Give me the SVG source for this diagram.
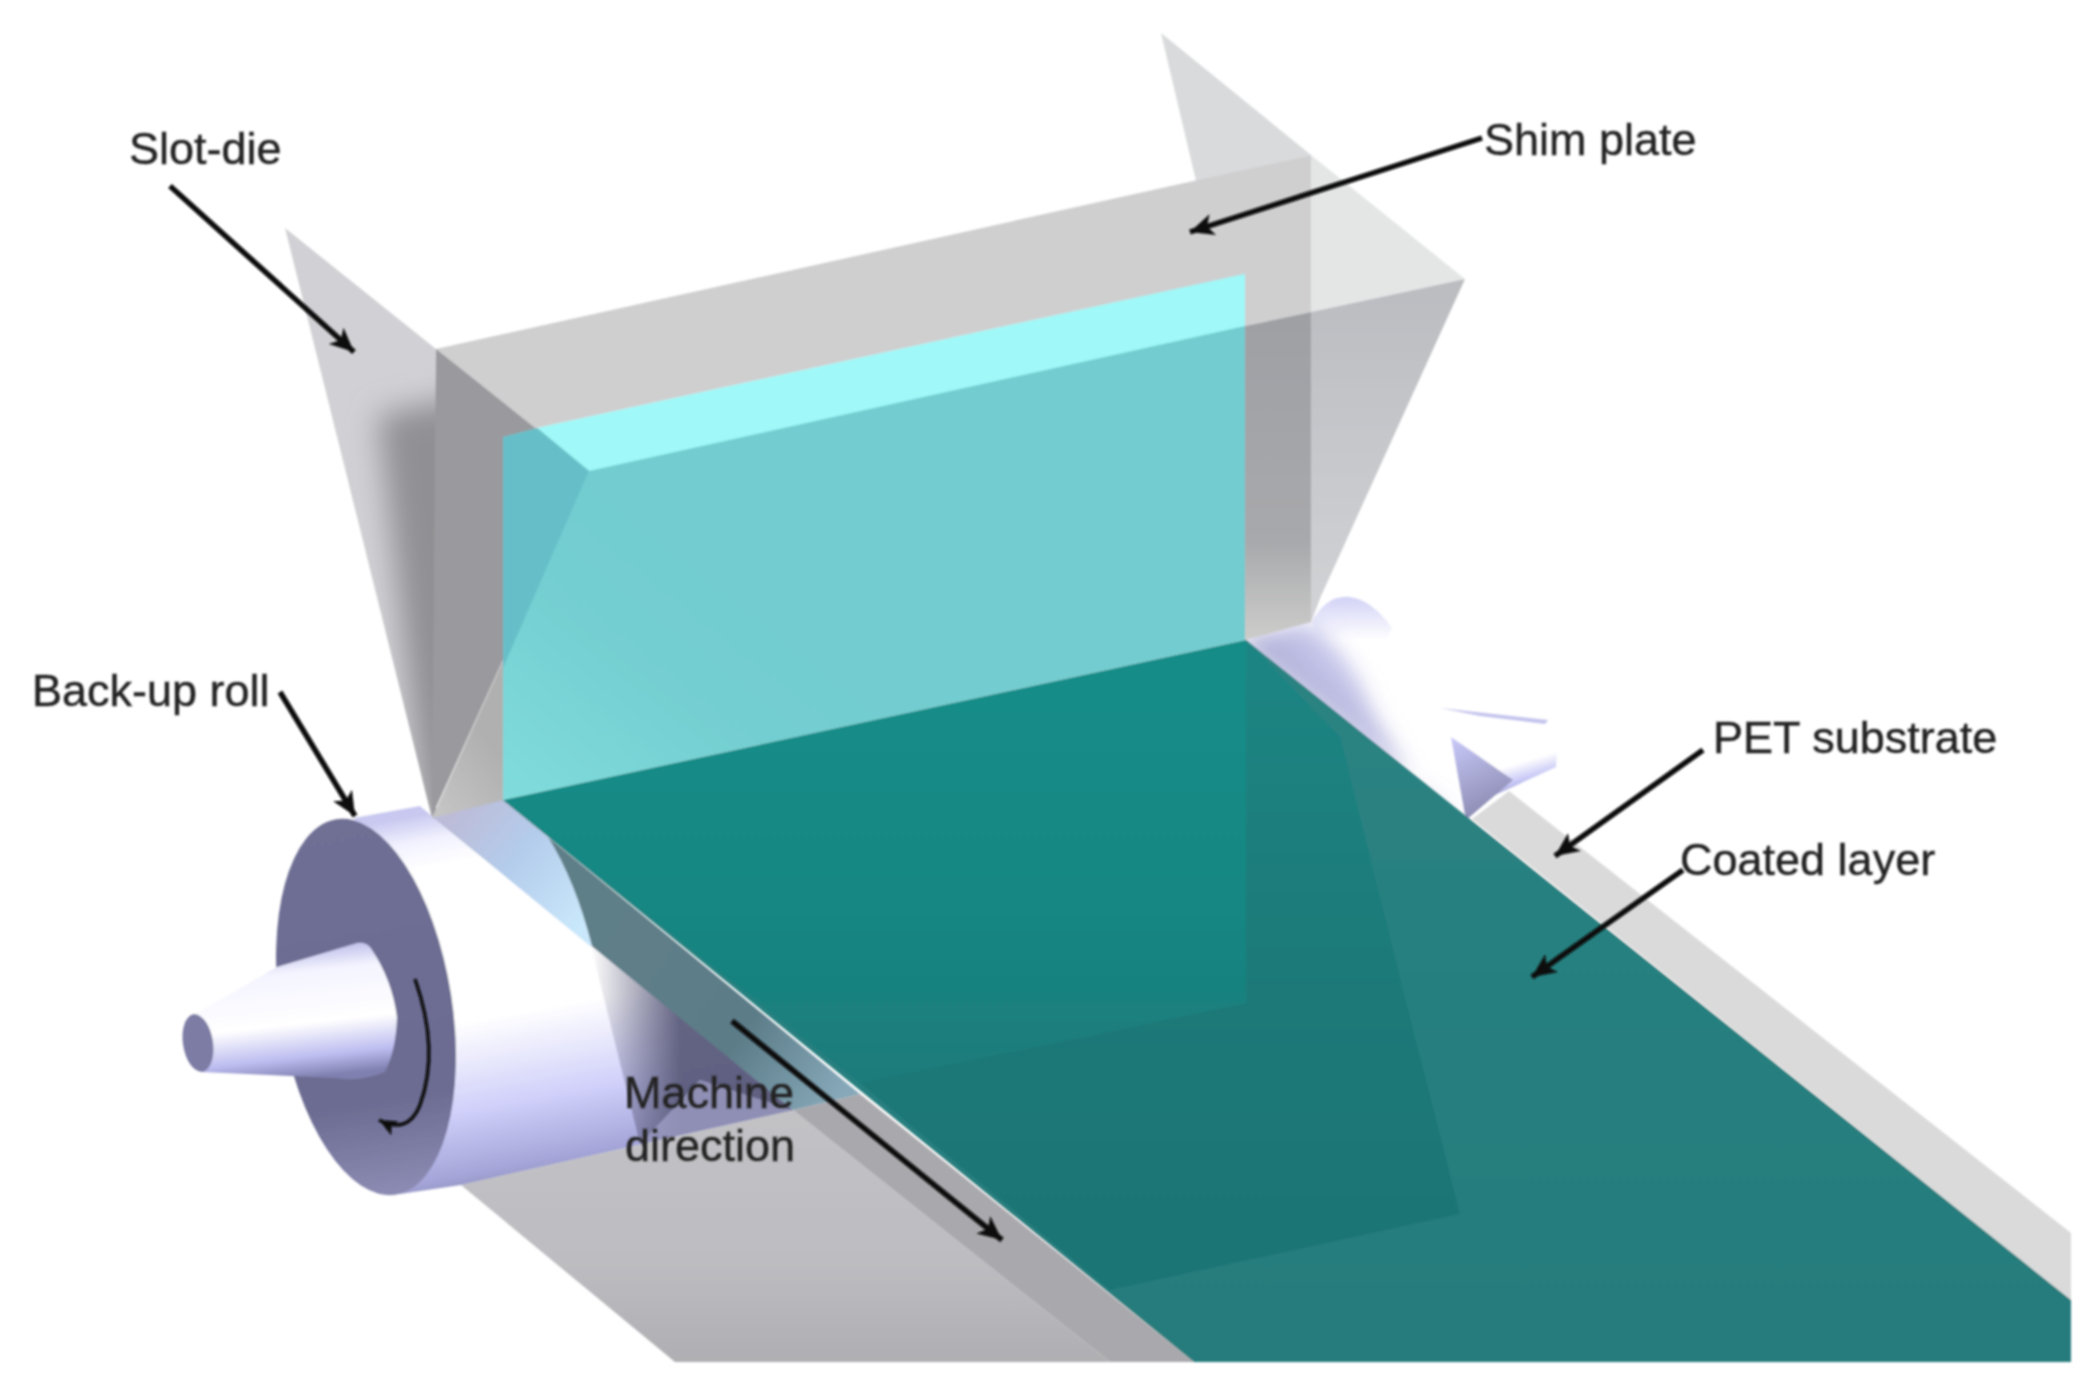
<svg xmlns="http://www.w3.org/2000/svg" width="2097" height="1399" viewBox="0 0 2097 1399">
<style>
text{font-family:"Liberation Sans",Arial,sans-serif;font-size:45px;fill:#242424;stroke:#242424;stroke-width:.4}
.ld{fill:none;stroke:#0c0c0c;stroke-width:5.5;stroke-linecap:butt}
</style>
<defs>
<marker id="ah" markerUnits="userSpaceOnUse" markerWidth="26" markerHeight="24" refX="24" refY="12" orient="auto"><path d="M0 1L24 12L0 23L6 12Z" fill="#0c0c0c"/></marker>
<marker id="ah2" markerUnits="userSpaceOnUse" markerWidth="20" markerHeight="18" refX="18" refY="9" orient="auto"><path d="M0 1L18 9L0 17L4 9Z" fill="#0c0c0c"/></marker>
<filter id="soft" x="-2%" y="-2%" width="104%" height="104%"><feGaussianBlur stdDeviation="0.9"/></filter>
<filter id="b14" x="-50%" y="-50%" width="200%" height="200%"><feGaussianBlur stdDeviation="15"/></filter>
<filter id="b8" x="-30%" y="-30%" width="160%" height="160%"><feGaussianBlur stdDeviation="10"/></filter>
<clipPath id="triL"><polygon points="285,228 436,349 436,818 432,818"/></clipPath>
<linearGradient id="roll" gradientUnits="userSpaceOnUse" x1="470" y1="805" x2="540" y2="1185"><stop offset="0" stop-color="#c8c8f0"/><stop offset=".07" stop-color="#f2f2ff"/><stop offset=".14" stop-color="#fff"/><stop offset=".55" stop-color="#fff"/><stop offset=".78" stop-color="#cfcffa"/><stop offset=".94" stop-color="#a4a4d8"/><stop offset="1" stop-color="#8a8ab2"/></linearGradient>
<linearGradient id="rollD" gradientUnits="userSpaceOnUse" x1="590" y1="1010" x2="680" y2="1010"><stop offset="0" stop-color="#5c5c7c" stop-opacity="0"/><stop offset="1" stop-color="#5c5c7c" stop-opacity=".95"/></linearGradient>
<linearGradient id="shaft" gradientUnits="userSpaceOnUse" x1="270" y1="945" x2="285" y2="1080"><stop offset="0" stop-color="#b0b0e6"/><stop offset=".22" stop-color="#f4f4ff"/><stop offset=".6" stop-color="#fff"/><stop offset=".85" stop-color="#bcbcf0"/><stop offset="1" stop-color="#8080b0"/></linearGradient>
<linearGradient id="disc" x1="0" y1="0" x2="0" y2="1"><stop offset="0" stop-color="#6f6f95"/><stop offset=".75" stop-color="#6c6c92"/><stop offset="1" stop-color="#8c8cb4"/></linearGradient>
<linearGradient id="floor" x1="0" y1="0" x2="0" y2="1"><stop offset="0" stop-color="#c2c2c6"/><stop offset=".6" stop-color="#bdbdc1"/><stop offset="1" stop-color="#afafb3"/></linearGradient>
<linearGradient id="band" gradientUnits="userSpaceOnUse" x1="590" y1="945" x2="830" y2="1110"><stop offset="0" stop-color="#5f7f88"/><stop offset=".6" stop-color="#5c7c88"/><stop offset="1" stop-color="#86a8b8"/></linearGradient>
<linearGradient id="lblue" gradientUnits="userSpaceOnUse" x1="450" y1="820" x2="580" y2="930"><stop offset="0" stop-color="#bcbcd8"/><stop offset=".45" stop-color="#b4cdec"/><stop offset="1" stop-color="#cae8fb"/></linearGradient>
<linearGradient id="wallR" x1="0" y1="0" x2="0" y2="1"><stop offset="0" stop-color="#9fa0a4"/><stop offset=".7" stop-color="#a8a9ac"/><stop offset="1" stop-color="#cdcdcb"/></linearGradient>
<linearGradient id="triR" x1="0" y1="0" x2="0" y2="1"><stop offset="0" stop-color="#babcc0"/><stop offset="1" stop-color="#d2d3d6"/></linearGradient>
<linearGradient id="wallLow" gradientUnits="userSpaceOnUse" x1="440" y1="810" x2="503" y2="760"><stop offset="0" stop-color="#c4c4c4"/><stop offset="1" stop-color="#b0b0b0"/></linearGradient>
<linearGradient id="cyan" gradientUnits="userSpaceOnUse" x1="510" y1="800" x2="700" y2="560"><stop offset="0" stop-color="#80dcdc"/><stop offset=".6" stop-color="#74cfd2"/><stop offset="1" stop-color="#72ccd0"/></linearGradient>
<linearGradient id="lav" gradientUnits="userSpaceOnUse" x1="1290" y1="680" x2="1345" y2="630"><stop offset="0" stop-color="#b0b0d8"/><stop offset="1" stop-color="#d8d8f8"/></linearGradient>
<linearGradient id="cap" gradientUnits="userSpaceOnUse" x1="1345" y1="597" x2="1345" y2="640"><stop offset="0" stop-color="#d2d2f6"/><stop offset="1" stop-color="#fff"/></linearGradient>
<linearGradient id="coneF" gradientUnits="userSpaceOnUse" x1="1450" y1="740" x2="1490" y2="825"><stop offset="0" stop-color="#c8c8f8"/><stop offset="1" stop-color="#8282a8"/></linearGradient>
<linearGradient id="coneE" gradientUnits="userSpaceOnUse" x1="1530" y1="735" x2="1545" y2="785"><stop offset="0" stop-color="#fff"/><stop offset=".45" stop-color="#fff"/><stop offset=".8" stop-color="#c4c4f6"/><stop offset="1" stop-color="#9090be"/></linearGradient>
<linearGradient id="tealB" x1="0" y1="0" x2="0" y2="1"><stop offset="0" stop-color="#2a8382"/><stop offset="1" stop-color="#267c7c"/></linearGradient>
<linearGradient id="tealA" gradientUnits="userSpaceOnUse" x1="0" y1="700" x2="0" y2="1080"><stop offset="0" stop-color="#158c88"/><stop offset=".55" stop-color="#178783"/><stop offset="1" stop-color="#1c7c7b"/></linearGradient>
<linearGradient id="tealD" gradientUnits="userSpaceOnUse" x1="0" y1="640" x2="0" y2="1290"><stop offset="0" stop-color="#1a8684"/><stop offset=".5" stop-color="#1e7a79"/><stop offset="1" stop-color="#1d7474"/></linearGradient>
</defs>
<rect width="2097" height="1399" fill="#fff"/>
<g filter="url(#soft)">
<g id="substrate">
<polygon points="461,1185 793,1110 1110,1362 675,1362" fill="url(#floor)"/>
<polygon points="793,1110 860,1094 1194,1362 1110,1362" fill="#a9a9ad"/>
<polygon points="1472,819 1509,791 2071,1233 2071,1300" fill="#dadada"/>
</g>
<g id="slot-die-left">
<polygon points="285,228 436,349 436,818 432,818" fill="#d1d1d5"/>
<g clip-path="url(#triL)"><polygon points="378,415 470,395 470,830 425,830" fill="#909094" filter="url(#b14)"/></g>
</g>
<g id="back-up-roll">
<path d="M354,818 L420,806 L433,817 L594,946 L793,1110 L461,1185 L400,1194 Z" fill="url(#roll)"/>
<path d="M590,942 L793,1110 L640,1144 Z" fill="url(#rollD)"/>
<path d="M700,1080 L793,1110 L640,1144 Z" fill="#a4a4cc" opacity=".7"/>
<ellipse cx="366" cy="1007" rx="86" ry="190" transform="rotate(-9 366 1007)" fill="url(#disc)"/>
<path d="M190,1017 L277,967 L354,944 Q366,940 372,950 Q392,980 397,1017 Q396,1050 385,1072 Q360,1082 336,1078 L201,1072 Z" fill="url(#shaft)"/>
<ellipse cx="198" cy="1043" rx="15" ry="29" transform="rotate(-9 198 1043)" fill="#7c7ca4"/>
</g>
<g id="far-roll">
<path d="M1312,622 Q1326,595 1350,597 Q1372,600 1392,628 L1385,645 L1320,645 Z" fill="url(#cap)"/>
<path d="M1235,640 L1308,622 Q1350,650 1372,710 L1420,795 L1472,829 Z" fill="url(#lav)" filter="url(#b8)"/>
<path d="M1440,708 L1548,720 L1545,724 L1480,716 Z" fill="#c4c4ee"/>
<path d="M1480,802 L1556,767 L1558,734 L1470,760 Z" fill="url(#coneE)"/>
<path d="M1451,737 L1513,780 L1466,820 Z" fill="url(#coneF)"/>
</g>
<g id="film-band">
<polygon points="433,817 503,800 860,1094 793,1110" fill="url(#band)"/>
<path d="M433,817 L503,800 L548,837 Q575,880 592,946 L590,946 Z" fill="url(#lblue)"/>
</g>
<g id="coated-layer">
<polygon points="503,800 1246,640 2071,1300 2071,1362 1194,1362" fill="url(#tealB)"/>
<polygon points="1246,640 1340,737 1460,1214 1110,1290 860,1083 1245,1003" fill="url(#tealD)"/>
<polygon points="503,800 1246,640 1246,1003 860,1083" fill="url(#tealA)"/>
</g>
<g id="slot-die-far">
<polygon points="1161,33 1311,155 1196,181" fill="#d9dadb"/>
<polygon points="1311,155 1465,279 1311,312" fill="#e4e6e6"/>
<polygon points="1311,312 1465,279 1321,596 1311,622" fill="url(#triR)"/>
</g>
<g id="shim-plate">
<polygon points="436,349 1311,155 1311,312 1245,326 1245,274 537,428 589,471 503,437" fill="#cfcfd0"/>
<polygon points="436,349 589,471 432,816" fill="#9a9a9e"/>
<polygon points="432,818 589,471 503,660 503,800" fill="url(#wallLow)"/>
<polygon points="1245,326 1311,312 1311,622 1245,640" fill="url(#wallR)"/>
</g>
<g id="coating-bead">
<polygon points="503,437 1245,274 1245,640 503,800" fill="url(#cyan)"/>
<polygon points="537,428 1245,274 1245,326 589,471" fill="#a0f8f8"/>
<polygon points="503,437 537,428 589,471 503,668" fill="#66bfc8"/>
</g>
</g>
<g id="connectors" filter="url(#soft)">
<path class="ld" d="M170,186L354,352" marker-end="url(#ah)"/>
<path class="ld" d="M1482,138L1190,232" marker-end="url(#ah)"/>
<path class="ld" d="M280,692L355,816" marker-end="url(#ah)"/>
<path class="ld" d="M1703,750L1555,856" marker-end="url(#ah)"/>
<path class="ld" d="M1683,870L1532,977" marker-end="url(#ah)"/>
<path class="ld" d="M732,1021L1002,1240" marker-end="url(#ah)"/>
<path class="ld" style="stroke-width:3.5" d="M415,979Q440,1050 420,1105Q408,1135 379,1120" marker-end="url(#ah2)"/>
</g>
<g id="labels" filter="url(#soft)">
<g id="label-slot-die"><text x="129" y="164">Slot-die</text></g>
<g id="label-shim-plate"><text x="1484" y="155">Shim plate</text></g>
<g id="label-back-up-roll"><text x="32" y="706">Back-up roll</text></g>
<g id="label-pet-substrate"><text x="1713" y="753">PET substrate</text></g>
<g id="label-coated-layer"><text x="1680" y="875">Coated layer</text></g>
<g id="label-machine-direction"><text x="624" y="1108">Machine</text><text x="625" y="1161">direction</text></g>
</g>
</svg>
